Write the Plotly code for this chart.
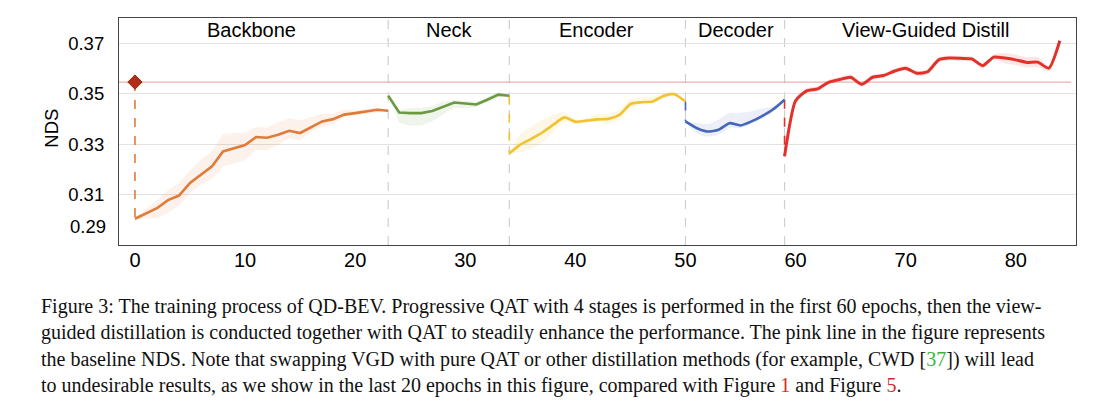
import plotly.graph_objects as go

# ---------------- data ----------------
backbone_epochs = list(range(0, 24))
backbone_nds = [0.3004, 0.3024, 0.3046, 0.3078, 0.3096, 0.3146, 0.3179, 0.3212, 0.3271, 0.3283,
                0.3296, 0.3328, 0.3325, 0.3337, 0.3353, 0.3344, 0.3368, 0.3390, 0.3399, 0.3417,
                0.3423, 0.3431, 0.3436, 0.3432]
backbone_hi = [0.000, 0.002, 0.003, 0.004, 0.005, 0.005, 0.006, 0.006, 0.007, 0.006,
               0.005, 0.004, 0.004, 0.005, 0.005, 0.005, 0.004, 0.003, 0.002, 0.002,
               0.001, 0.001, 0.001, 0.000]
backbone_lo = [0.000, 0.002, 0.004, 0.005, 0.004, 0.004, 0.004, 0.005, 0.006, 0.006,
               0.006, 0.005, 0.005, 0.004, 0.003, 0.003, 0.002, 0.002, 0.002, 0.001,
               0.001, 0.001, 0.001, 0.000]

neck_epochs = list(range(23, 35))
neck_nds = [0.3492, 0.3425, 0.3423, 0.3423, 0.3431, 0.3449, 0.3465, 0.3461, 0.3457, 0.3476, 0.3496, 0.3492]
neck_hi = [0.000, 0.001, 0.002, 0.002, 0.002, 0.002, 0.001, 0.001, 0.001, 0.001, 0.001, 0.000]
neck_lo = [0.000, 0.004, 0.005, 0.005, 0.004, 0.003, 0.002, 0.002, 0.001, 0.001, 0.001, 0.000]

encoder_epochs = list(range(34, 51))
encoder_nds = [0.3263, 0.3298, 0.3321, 0.3346, 0.3377, 0.3406, 0.3389, 0.3393, 0.3398, 0.3400,
               0.3416, 0.3459, 0.3466, 0.3469, 0.3491, 0.3498, 0.3469]
encoder_hi = [0.000, 0.004, 0.005, 0.005, 0.004, 0.002, 0.001, 0.001, 0.002, 0.002,
              0.002, 0.002, 0.002, 0.002, 0.001, 0.001, 0.000]
encoder_lo = [0.000, 0.003, 0.004, 0.004, 0.003, 0.002, 0.001, 0.001, 0.001, 0.002,
              0.002, 0.002, 0.001, 0.001, 0.001, 0.001, 0.000]

decoder_epochs = list(range(50, 60))
decoder_nds = [0.3390, 0.3364, 0.3350, 0.3357, 0.3383, 0.3374, 0.3390, 0.3412, 0.3439, 0.3476]
decoder_hi = [0.000, 0.002, 0.003, 0.004, 0.004, 0.005, 0.004, 0.003, 0.001, 0.000]
decoder_lo = [0.000, 0.002, 0.002, 0.002, 0.002, 0.001, 0.001, 0.001, 0.001, 0.000]

vgd_epochs = list(range(59, 85))
vgd_nds = [0.3252, 0.3472, 0.3511, 0.3519, 0.3545, 0.3556, 0.3565, 0.3537, 0.3565, 0.3572,
           0.3590, 0.3601, 0.3581, 0.3587, 0.3634, 0.3641, 0.3640, 0.3638, 0.3611, 0.3645,
           0.3641, 0.3634, 0.3624, 0.3625, 0.3601, 0.3710]
vgd_hi = [0.000, 0.001, 0.001, 0.001, 0.001, 0.001, 0.001, 0.001, 0.001, 0.001,
          0.001, 0.001, 0.001, 0.001, 0.001, 0.001, 0.001, 0.001, 0.001, 0.001,
          0.002, 0.002, 0.002, 0.002, 0.001, 0.000]
vgd_lo = [0.000, 0.001, 0.001, 0.001, 0.001, 0.001, 0.001, 0.001, 0.001, 0.001,
          0.001, 0.001, 0.001, 0.001, 0.001, 0.001, 0.001, 0.001, 0.001, 0.001,
          0.002, 0.002, 0.002, 0.002, 0.001, 0.000]

baseline_nds = 0.3546
stage_bounds = [23, 34, 50, 59]
stage_names = ["Backbone", "Neck", "Encoder", "Decoder", "View-Guided Distill"]
stage_label_x = [10.6, 28.6, 41.9, 54.6, 71.8]

x_ticks = [0, 10, 20, 30, 40, 50, 60, 70, 80]
y_ticks = [0.31, 0.33, 0.35, 0.37]
y_tick_text = ["0.31", "0.33", "0.35", "0.37"]

caption_lines = [
    "Figure 3: The training process of QD-BEV. Progressive QAT with 4 stages is performed in the first 60 epochs, then the view-",
    "guided distillation is conducted together with QAT to steadily enhance the performance. The pink line in the figure represents",
    "the baseline NDS. Note that swapping VGD with pure QAT or other distillation methods (for example, CWD [<span style='color:#3bb33b'>37</span>]) will lead",
    "to undesirable results, as we show in the last 20 epochs in this figure, compared with Figure <span style='color:#d42a2a'>1</span> and Figure <span style='color:#d42a2a'>5</span>.",
]

# ---------------- figure ----------------
W, H = 1116, 409
ML, MR, MT, MB = 119, 40, 18, 164
plot_h = H - MT - MB
plot_w = W - ML - MR
SANS = "Liberation Sans, Arial, Helvetica, sans-serif"

fig = go.Figure()

stages = [
    (backbone_epochs, backbone_nds, backbone_hi, backbone_lo, "#e07b3a", "rgba(224,123,58,0.10)", "linear"),
    (neck_epochs, neck_nds, neck_hi, neck_lo, "#6c9a44", "rgba(108,154,68,0.10)", "linear"),
    (encoder_epochs, encoder_nds, encoder_hi, encoder_lo, "#f1c232", "rgba(241,194,50,0.12)", "spline"),
    (decoder_epochs, decoder_nds, decoder_hi, decoder_lo, "#4566b8", "rgba(69,102,184,0.10)", "spline"),
    (vgd_epochs, vgd_nds, vgd_hi, vgd_lo, "#e2312a", "rgba(226,49,42,0.12)", "spline"),
]

# error bands
for ep, v, hi, lo, col, fill, shp in stages:
    upper = [a + b for a, b in zip(v, hi)]
    lower = [a - b for a, b in zip(v, lo)]
    fig.add_trace(go.Scatter(x=ep, y=upper, mode="lines", line=dict(width=0, shape=shp),
                             hoverinfo="skip", showlegend=False))
    fig.add_trace(go.Scatter(x=ep, y=lower, mode="lines", line=dict(width=0, shape=shp),
                             fill="tonexty", fillcolor=fill, hoverinfo="skip", showlegend=False))

# stage separators
for b in stage_bounds:
    fig.add_shape(type="line", xref="x", yref="paper", x0=b, x1=b, y0=0, y1=1,
                  line=dict(color="#cfcfcf", width=1.2, dash="dash"), layer="below")

# baseline
fig.add_shape(type="line", xref="paper", yref="y", x0=0, x1=0.995, y0=baseline_nds, y1=baseline_nds,
              line=dict(color="rgba(232,150,150,0.75)", width=1.2), layer="below")

# dashed connectors at stage starts
connectors = [
    (backbone_epochs[0], baseline_nds, backbone_nds[0], "#e07b3a"),
    (encoder_epochs[0], neck_nds[-1], encoder_nds[0], "#f1c232"),
    (decoder_epochs[0], encoder_nds[-1], decoder_nds[0], "#4566b8"),
    (vgd_epochs[0], decoder_nds[-1], vgd_nds[0], "#e2312a"),
]
for x0, ya, yb, col in connectors:
    fig.add_trace(go.Scatter(x=[x0, x0], y=[ya, yb], mode="lines",
                             line=dict(color=col, width=1.6, dash="dash"),
                             hoverinfo="skip", showlegend=False))

# main lines
for ep, v, hi, lo, col, fill, shp in stages:
    width = 3 if col == "#e2312a" else 2.6
    fig.add_trace(go.Scatter(x=ep, y=v, mode="lines",
                             line=dict(color=col, width=width, shape=shp, smoothing=0.6),
                             showlegend=False))

# baseline marker
fig.add_trace(go.Scatter(x=[backbone_epochs[0]], y=[baseline_nds], mode="markers",
                         marker=dict(symbol="diamond", size=11, color="#b02e16",
                                     line=dict(color="#8e2812", width=1)),
                         showlegend=False))

# stage labels
for name, xl in zip(stage_names, stage_label_x):
    fig.add_annotation(x=xl, y=0.3753, xref="x", yref="y", text=name, showarrow=False,
                       font=dict(family=SANS, size=20, color="#000000"))

# NDS axis title
fig.add_annotation(x=0, xref="paper", xanchor="center", xshift=-(ML - 52), y=0.3361, yref="y",
                   yanchor="middle", text="NDS", textangle=-90, showarrow=False,
                   font=dict(family=SANS, size=18.5, color="#000000"))

# bottom tick label drawn as in the reference
fig.add_annotation(x=0, xref="paper", xanchor="right", xshift=-11, y=0.2974, yref="y", text="0.29",
                   showarrow=False, font=dict(family=SANS, size=18.5, color="#000000"))

# caption
def paper_y(ypx):
    return (H - MB - ypx) / plot_h

cap_y = [306, 332.5, 359, 385]
for line, yp in zip(caption_lines, cap_y):
    fig.add_annotation(x=(39 - ML) / plot_w, xref="paper", xanchor="left", y=paper_y(yp), yref="paper",
                       yanchor="middle", text=line, showarrow=False, align="left",
                       font=dict(family="Liberation Serif, Times New Roman, serif", size=20, color="#111111"))

fig.update_xaxes(range=[-1.45, 85.47], tickvals=x_ticks, showgrid=False, zeroline=False,
                 showline=True, linecolor="#444444", linewidth=1.2, mirror=True, ticks="",
                 ticklabelstandoff=-3,
                 tickfont=dict(family=SANS, size=20, color="#000000"))
fig.update_yaxes(range=[0.29, 0.38], tickvals=y_ticks, ticktext=y_tick_text, showgrid=True,
                 gridcolor="#e2e2e2", gridwidth=1, zeroline=False,
                 showline=True, linecolor="#444444", linewidth=1.2, mirror=True, ticks="",
                 ticklabelstandoff=10,
                 tickfont=dict(family=SANS, size=18.5, color="#000000"))

fig.update_layout(width=W, height=H, margin=dict(l=ML, r=MR, t=MT, b=MB),
                  paper_bgcolor="white", plot_bgcolor="white", showlegend=False)

fig.write_html("out.html")
